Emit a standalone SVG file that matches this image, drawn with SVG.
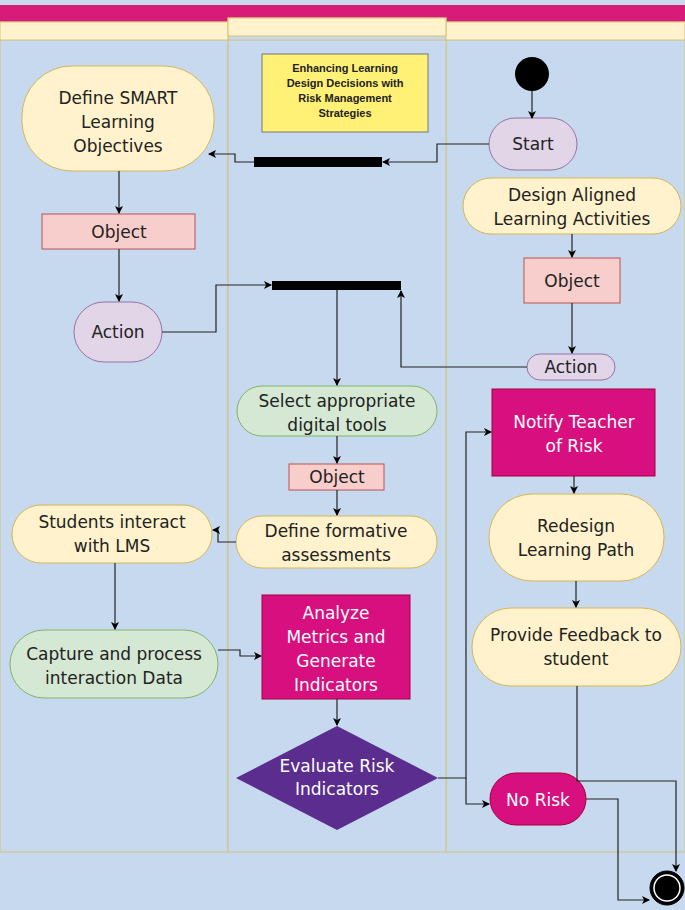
<svg xmlns="http://www.w3.org/2000/svg" width="685" height="910" viewBox="0 0 685 910">
<defs>
<marker id="a" markerWidth="8" markerHeight="8" refX="7" refY="4" orient="auto" markerUnits="userSpaceOnUse"><path d="M0,0 L8,4 L0,8 L2,4 z" fill="#000"/></marker>
<style>
text{font-family:"DejaVu Sans",sans-serif;font-size:17px;fill:#222;text-anchor:middle}
.y{fill:#fff2cc;stroke:#d6b656}
.p{fill:#e1d5e7;stroke:#9673a6}
.g{fill:#d5e8d4;stroke:#82b366}
.r{fill:#f8cecc;stroke:#b85450}
.m{fill:#d80f7e;stroke:#a50040}
.w{fill:#fff}
.c path,.c polyline{fill:none;stroke:#222;stroke-width:1.2;marker-end:url(#a)}
</style>
</defs>
<rect width="685" height="910" fill="#c6d9ee"/>
<rect x="0" y="5" width="685" height="17" fill="#d81b78"/>
<g id="lanes" fill="none" stroke="#d6c27a">
<rect x="0" y="22" width="228" height="830" fill="#c6d9ee"/>
<rect x="446" y="22" width="239" height="830" fill="#c6d9ee"/>
<rect x="228" y="18" width="218" height="834" fill="#c6d9ee"/>
<rect x="0" y="22" width="228" height="18" fill="#fff2cc"/>
<rect x="446" y="22" width="239" height="18" fill="#fff2cc"/>
<rect x="228" y="18" width="218" height="18" fill="#fff2cc"/>
<line x1="228" y1="40" x2="446" y2="40"/>
</g>
<g id="title"><rect x="262" y="54" width="166" height="78" fill="#fff176" stroke="#777"/>
<text x="345" y="72" style="font-family:'Liberation Sans',sans-serif;font-size:11px;font-weight:bold"><tspan x="345">Enhancing Learning</tspan><tspan x="345" dy="15">Design Decisions with</tspan><tspan x="345" dy="15">Risk Management</tspan><tspan x="345" dy="15">Strategies</tspan></text></g>
<g id="start"><circle cx="532" cy="74" r="17" fill="#000"/></g>
<g id="startnode"><rect x="489" y="118" width="88" height="52" rx="26" class="p"/><text x="533" y="150">Start</text></g>
<g id="bar1"><rect x="254" y="157" width="128" height="10" fill="#000"/></g>
<g id="smart"><rect x="22" y="66" width="192" height="105" rx="50" class="y"/><text x="118" y="104">Define SMART<tspan x="118" dy="24">Learning</tspan><tspan x="118" dy="24">Objectives</tspan></text></g>
<g id="obj1"><rect x="42" y="214" width="153" height="35" class="r"/><text x="119" y="238">Object</text></g>
<g id="act1"><rect x="74" y="302" width="88" height="60" rx="30" class="p"/><text x="118" y="338">Action</text></g>
<g id="design"><rect x="463" y="178" width="218" height="56" rx="28" class="y"/><text x="572" y="201">Design Aligned<tspan x="572" dy="24">Learning Activities</tspan></text></g>
<g id="obj2"><rect x="524" y="258" width="96" height="45" class="r"/><text x="572" y="287">Object</text></g>
<g id="bar2"><rect x="272" y="281" width="129" height="9" fill="#000"/></g>
<g id="act2"><rect x="527" y="354" width="88" height="26" rx="13" class="p"/><text x="571" y="373">Action</text></g>
<g id="select"><rect x="237" y="386" width="200" height="50" rx="25" class="g"/><text x="337" y="407">Select appropriate<tspan x="337" dy="24">digital tools</tspan></text></g>
<g id="obj3"><rect x="289" y="464" width="95" height="26" class="r"/><text x="337" y="483">Object</text></g>
<g id="formative"><rect x="236" y="516" width="201" height="52" rx="26" class="y"/><text x="336" y="537">Define formative<tspan x="336" dy="24">assessments</tspan></text></g>
<g id="students"><rect x="12" y="505" width="200" height="58" rx="29" class="y"/><text x="112" y="528">Students interact<tspan x="112" dy="24">with LMS</tspan></text></g>
<g id="capture"><rect x="10" y="630" width="208" height="68" rx="34" class="g"/><text x="114" y="660">Capture and process<tspan x="114" dy="24">interaction Data</tspan></text></g>
<g id="analyze"><rect x="262" y="595" width="148" height="104" class="m"/><text x="336" y="619" class="w" style="fill:#fff">Analyze<tspan x="336" dy="24">Metrics and</tspan><tspan x="336" dy="24">Generate</tspan><tspan x="336" dy="24">Indicators</tspan></text></g>
<g id="evaluate"><polygon points="236,778 337,726 438,778 337,830" fill="#5b2d8e"/><text x="337" y="772" style="fill:#fff">Evaluate Risk<tspan x="337" dy="23">Indicators</tspan></text></g>
<g id="notify"><rect x="492" y="389" width="163" height="87" class="m"/><text x="574" y="428" style="fill:#fff">Notify Teacher<tspan x="574" dy="24">of  Risk</tspan></text></g>
<g id="redesign"><rect x="489" y="494" width="175" height="87" rx="43" class="y"/><text x="576" y="532">Redesign<tspan x="576" dy="24">Learning Path</tspan></text></g>
<g id="feedback"><rect x="472" y="608" width="209" height="78" rx="39" class="y"/><text x="576" y="641">Provide Feedback to<tspan x="576" dy="24">student</tspan></text></g>
<g id="norisk"><rect x="490" y="773" width="96" height="52" rx="26" class="m"/><text x="538" y="806" style="fill:#fff">No Risk</text></g>
<g id="end"><circle cx="667" cy="888" r="17" fill="#000" stroke="#000"/><circle cx="667" cy="888" r="13" fill="none" stroke="#fff" stroke-width="1.5"/></g>
<g id="connectors" class="c">
<path d="M532,91 V118"/>
<path d="M489,144 H437 V162 H383"/>
<path d="M254,162 H235 V154 H209"/>
<path d="M119,171 V213"/>
<path d="M119,249 V301"/>
<path d="M162,332 H216 V285 H271"/>
<path d="M572,234 V257"/>
<path d="M572,303 V353"/>
<path d="M527,367 H401 V291"/>
<path d="M337,290 V385"/>
<path d="M337,436 V463"/>
<path d="M337,490 V515"/>
<path d="M236,542 H218 V530 H213"/>
<path d="M115,563 V629"/>
<path d="M218,650 H240 V656 H261"/>
<path d="M337,699 V725"/>
<path d="M438,778 H466 V432 H491"/>
<path d="M466,778 V804 H489"/>
<path d="M574,476 V493"/>
<path d="M576,581 V607"/>
<path d="M577,686 V781 H676 V871"/>
<path d="M586,799 H618 V900 H649"/>
</g>
</svg>
